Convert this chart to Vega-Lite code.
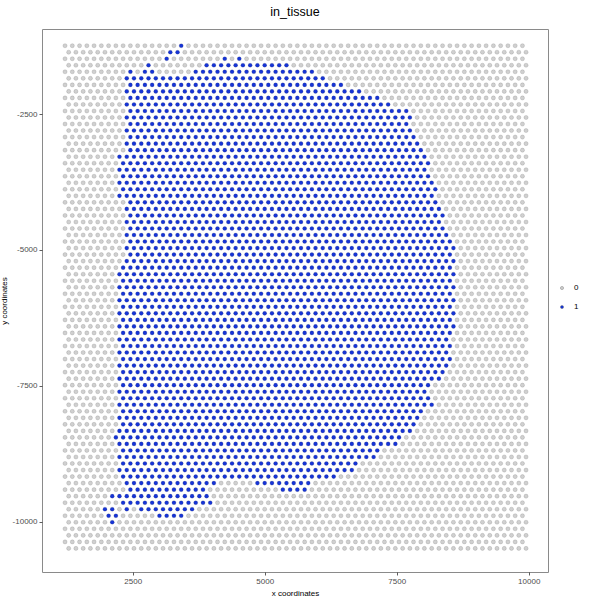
{
"$schema": "https://vega.github.io/schema/vega-lite/v6.json",
"width": 506,
"height": 543,
"autosize": {"type": "none"},
"padding": {"left": 42, "top": 29, "right": 52, "bottom": 28},
"background": "white",
"title": {"text": "in_tissue", "fontSize": 12.5, "fontWeight": "normal", "font": "Liberation Sans", "color": "#000000", "anchor": "middle", "offset": 11},
"data": {"values": [
{"y":-1243,"t":0,"x":[1218,1356,1493,1631,1768,1906,2043,2181,2318,2456,2593,2731,2868,3006,3143,3281,3556,3693,3831,3968,4106,4243,4381,4518,4656,4793,4931,5068,5206,5343,5481,5618,5756,5893,6031,6168,6306,6443,6581,6718,6856,6993,7131,7268,7406,7543,7681,7818,7956,8093,8231,8368,8506,8643,8781,8918,9056,9193,9331,9468,9606,9743,9881]},
{"y":-1243,"t":1,"x":[3418]},
{"y":-1363,"t":0,"x":[1287,1424,1562,1699,1837,1974,2112,2249,2387,2524,2662,2799,2937,3074,3487,3624,3762,3899,4037,4174,4312,4449,4587,4724,4862,4999,5137,5274,5412,5549,5687,5824,5962,6099,6237,6374,6512,6649,6787,6924,7062,7199,7337,7474,7612,7749,7887,8024,8162,8299,8437,8574,8712,8849,8987,9124,9262,9399,9537,9674,9812,9949]},
{"y":-1363,"t":1,"x":[3212,3349]},
{"y":-1483,"t":0,"x":[1218,1356,1493,1631,1768,1906,2043,2181,2318,2456,2593,2731,2868,3006,3281,3418,3556,3693,3831,3968,4106,4381,4656,4793,4931,5068,5206,5343,5481,5618,5756,5893,6031,6168,6306,6443,6581,6718,6856,6993,7131,7268,7406,7543,7681,7818,7956,8093,8231,8368,8506,8643,8781,8918,9056,9193,9331,9468,9606,9743,9881]},
{"y":-1483,"t":1,"x":[3143,4243,4518]},
{"y":-1603,"t":0,"x":[1287,1424,1562,1699,1837,1974,2112,2249,2387,2524,2662,2937,3074,3212,3349,3487,3624,3762,5549,5687,5824,5962,6099,6237,6374,6512,6649,6787,6924,7062,7199,7337,7474,7612,7749,7887,8024,8162,8299,8437,8574,8712,8849,8987,9124,9262,9399,9537,9674,9812,9949]},
{"y":-1603,"t":1,"x":[2799,3899,4037,4174,4312,4449,4587,4724,4862,4999,5137,5274,5412]},
{"y":-1723,"t":0,"x":[1218,1356,1493,1631,1768,1906,2043,2181,2318,2593,3006,3143,3281,3418,3556,6031,6168,6306,6443,6581,6718,6856,6993,7131,7268,7406,7543,7681,7818,7956,8093,8231,8368,8506,8643,8781,8918,9056,9193,9331,9468,9606,9743,9881]},
{"y":-1723,"t":1,"x":[2456,2731,2868,3693,3831,3968,4106,4243,4381,4518,4656,4793,4931,5068,5206,5343,5481,5618,5756,5893]},
{"y":-1844,"t":0,"x":[1287,1424,1562,1699,1837,1974,2112,2249,6237,6374,6512,6649,6787,6924,7062,7199,7337,7474,7612,7749,7887,8024,8162,8299,8437,8574,8712,8849,8987,9124,9262,9399,9537,9674,9812,9949]},
{"y":-1844,"t":1,"x":[2387,2524,2662,2799,2937,3074,3212,3349,3487,3624,3762,3899,4037,4174,4312,4449,4587,4724,4862,4999,5137,5274,5412,5549,5687,5824,5962,6099]},
{"y":-1964,"t":0,"x":[1218,1356,1493,1631,1768,1906,2043,2181,2318,6581,6718,6856,6993,7131,7268,7406,7543,7681,7818,7956,8093,8231,8368,8506,8643,8781,8918,9056,9193,9331,9468,9606,9743,9881]},
{"y":-1964,"t":1,"x":[2456,2593,2731,2868,3006,3143,3281,3418,3556,3693,3831,3968,4106,4243,4381,4518,4656,4793,4931,5068,5206,5343,5481,5618,5756,5893,6031,6168,6306,6443]},
{"y":-2084,"t":0,"x":[1287,1424,1562,1699,1837,1974,2112,2249,6924,7062,7199,7337,7474,7612,7749,7887,8024,8162,8299,8437,8574,8712,8849,8987,9124,9262,9399,9537,9674,9812,9949]},
{"y":-2084,"t":1,"x":[2387,2524,2662,2799,2937,3074,3212,3349,3487,3624,3762,3899,4037,4174,4312,4449,4587,4724,4862,4999,5137,5274,5412,5549,5687,5824,5962,6099,6237,6374,6512,6649,6787]},
{"y":-2204,"t":0,"x":[1218,1356,1493,1631,1768,1906,2043,2181,2318,7268,7406,7543,7681,7818,7956,8093,8231,8368,8506,8643,8781,8918,9056,9193,9331,9468,9606,9743,9881]},
{"y":-2204,"t":1,"x":[2456,2593,2731,2868,3006,3143,3281,3418,3556,3693,3831,3968,4106,4243,4381,4518,4656,4793,4931,5068,5206,5343,5481,5618,5756,5893,6031,6168,6306,6443,6581,6718,6856,6993,7131]},
{"y":-2324,"t":0,"x":[1287,1424,1562,1699,1837,1974,2112,2249,7474,7612,7749,7887,8024,8162,8299,8437,8574,8712,8849,8987,9124,9262,9399,9537,9674,9812,9949]},
{"y":-2324,"t":1,"x":[2387,2524,2662,2799,2937,3074,3212,3349,3487,3624,3762,3899,4037,4174,4312,4449,4587,4724,4862,4999,5137,5274,5412,5549,5687,5824,5962,6099,6237,6374,6512,6649,6787,6924,7062,7199,7337]},
{"y":-2444,"t":0,"x":[1218,1356,1493,1631,1768,1906,2043,2181,2318,7818,7956,8093,8231,8368,8506,8643,8781,8918,9056,9193,9331,9468,9606,9743,9881]},
{"y":-2444,"t":1,"x":[2456,2593,2731,2868,3006,3143,3281,3418,3556,3693,3831,3968,4106,4243,4381,4518,4656,4793,4931,5068,5206,5343,5481,5618,5756,5893,6031,6168,6306,6443,6581,6718,6856,6993,7131,7268,7406,7543,7681]},
{"y":-2564,"t":0,"x":[1287,1424,1562,1699,1837,1974,2112,2249,7887,8024,8162,8299,8437,8574,8712,8849,8987,9124,9262,9399,9537,9674,9812,9949]},
{"y":-2564,"t":1,"x":[2387,2524,2662,2799,2937,3074,3212,3349,3487,3624,3762,3899,4037,4174,4312,4449,4587,4724,4862,4999,5137,5274,5412,5549,5687,5824,5962,6099,6237,6374,6512,6649,6787,6924,7062,7199,7337,7474,7612,7749]},
{"y":-2684,"t":0,"x":[1218,1356,1493,1631,1768,1906,2043,2181,2318,7818,7956,8093,8231,8368,8506,8643,8781,8918,9056,9193,9331,9468,9606,9743,9881]},
{"y":-2684,"t":1,"x":[2456,2593,2731,2868,3006,3143,3281,3418,3556,3693,3831,3968,4106,4243,4381,4518,4656,4793,4931,5068,5206,5343,5481,5618,5756,5893,6031,6168,6306,6443,6581,6718,6856,6993,7131,7268,7406,7543,7681]},
{"y":-2804,"t":0,"x":[1287,1424,1562,1699,1837,1974,2112,2249,7887,8024,8162,8299,8437,8574,8712,8849,8987,9124,9262,9399,9537,9674,9812,9949]},
{"y":-2804,"t":1,"x":[2387,2524,2662,2799,2937,3074,3212,3349,3487,3624,3762,3899,4037,4174,4312,4449,4587,4724,4862,4999,5137,5274,5412,5549,5687,5824,5962,6099,6237,6374,6512,6649,6787,6924,7062,7199,7337,7474,7612,7749]},
{"y":-2924,"t":0,"x":[1218,1356,1493,1631,1768,1906,2043,2181,2318,7956,8093,8231,8368,8506,8643,8781,8918,9056,9193,9331,9468,9606,9743,9881]},
{"y":-2924,"t":1,"x":[2456,2593,2731,2868,3006,3143,3281,3418,3556,3693,3831,3968,4106,4243,4381,4518,4656,4793,4931,5068,5206,5343,5481,5618,5756,5893,6031,6168,6306,6443,6581,6718,6856,6993,7131,7268,7406,7543,7681,7818]},
{"y":-3045,"t":0,"x":[1287,1424,1562,1699,1837,1974,2112,2249,8024,8162,8299,8437,8574,8712,8849,8987,9124,9262,9399,9537,9674,9812,9949]},
{"y":-3045,"t":1,"x":[2387,2524,2662,2799,2937,3074,3212,3349,3487,3624,3762,3899,4037,4174,4312,4449,4587,4724,4862,4999,5137,5274,5412,5549,5687,5824,5962,6099,6237,6374,6512,6649,6787,6924,7062,7199,7337,7474,7612,7749,7887]},
{"y":-3165,"t":0,"x":[1218,1356,1493,1631,1768,1906,2043,2181,2318,8093,8231,8368,8506,8643,8781,8918,9056,9193,9331,9468,9606,9743,9881]},
{"y":-3165,"t":1,"x":[2456,2593,2731,2868,3006,3143,3281,3418,3556,3693,3831,3968,4106,4243,4381,4518,4656,4793,4931,5068,5206,5343,5481,5618,5756,5893,6031,6168,6306,6443,6581,6718,6856,6993,7131,7268,7406,7543,7681,7818,7956]},
{"y":-3285,"t":0,"x":[1287,1424,1562,1699,1837,1974,2112,8162,8299,8437,8574,8712,8849,8987,9124,9262,9399,9537,9674,9812,9949]},
{"y":-3285,"t":1,"x":[2249,2387,2524,2662,2799,2937,3074,3212,3349,3487,3624,3762,3899,4037,4174,4312,4449,4587,4724,4862,4999,5137,5274,5412,5549,5687,5824,5962,6099,6237,6374,6512,6649,6787,6924,7062,7199,7337,7474,7612,7749,7887,8024]},
{"y":-3405,"t":0,"x":[1218,1356,1493,1631,1768,1906,2043,2181,8231,8368,8506,8643,8781,8918,9056,9193,9331,9468,9606,9743,9881]},
{"y":-3405,"t":1,"x":[2318,2456,2593,2731,2868,3006,3143,3281,3418,3556,3693,3831,3968,4106,4243,4381,4518,4656,4793,4931,5068,5206,5343,5481,5618,5756,5893,6031,6168,6306,6443,6581,6718,6856,6993,7131,7268,7406,7543,7681,7818,7956,8093]},
{"y":-3525,"t":0,"x":[1287,1424,1562,1699,1837,1974,2112,8162,8299,8437,8574,8712,8849,8987,9124,9262,9399,9537,9674,9812,9949]},
{"y":-3525,"t":1,"x":[2249,2387,2524,2662,2799,2937,3074,3212,3349,3487,3624,3762,3899,4037,4174,4312,4449,4587,4724,4862,4999,5137,5274,5412,5549,5687,5824,5962,6099,6237,6374,6512,6649,6787,6924,7062,7199,7337,7474,7612,7749,7887,8024]},
{"y":-3645,"t":0,"x":[1218,1356,1493,1631,1768,1906,2043,2181,8231,8368,8506,8643,8781,8918,9056,9193,9331,9468,9606,9743,9881]},
{"y":-3645,"t":1,"x":[2318,2456,2593,2731,2868,3006,3143,3281,3418,3556,3693,3831,3968,4106,4243,4381,4518,4656,4793,4931,5068,5206,5343,5481,5618,5756,5893,6031,6168,6306,6443,6581,6718,6856,6993,7131,7268,7406,7543,7681,7818,7956,8093]},
{"y":-3765,"t":0,"x":[1287,1424,1562,1699,1837,1974,2112,8299,8437,8574,8712,8849,8987,9124,9262,9399,9537,9674,9812,9949]},
{"y":-3765,"t":1,"x":[2249,2387,2524,2662,2799,2937,3074,3212,3349,3487,3624,3762,3899,4037,4174,4312,4449,4587,4724,4862,4999,5137,5274,5412,5549,5687,5824,5962,6099,6237,6374,6512,6649,6787,6924,7062,7199,7337,7474,7612,7749,7887,8024,8162]},
{"y":-3885,"t":0,"x":[1218,1356,1493,1631,1768,1906,2043,2181,8368,8506,8643,8781,8918,9056,9193,9331,9468,9606,9743,9881]},
{"y":-3885,"t":1,"x":[2318,2456,2593,2731,2868,3006,3143,3281,3418,3556,3693,3831,3968,4106,4243,4381,4518,4656,4793,4931,5068,5206,5343,5481,5618,5756,5893,6031,6168,6306,6443,6581,6718,6856,6993,7131,7268,7406,7543,7681,7818,7956,8093,8231]},
{"y":-4005,"t":0,"x":[1287,1424,1562,1699,1837,1974,2112,8299,8437,8574,8712,8849,8987,9124,9262,9399,9537,9674,9812,9949]},
{"y":-4005,"t":1,"x":[2249,2387,2524,2662,2799,2937,3074,3212,3349,3487,3624,3762,3899,4037,4174,4312,4449,4587,4724,4862,4999,5137,5274,5412,5549,5687,5824,5962,6099,6237,6374,6512,6649,6787,6924,7062,7199,7337,7474,7612,7749,7887,8024,8162]},
{"y":-4125,"t":0,"x":[1218,1356,1493,1631,1768,1906,2043,2181,2318,8368,8506,8643,8781,8918,9056,9193,9331,9468,9606,9743,9881]},
{"y":-4125,"t":1,"x":[2456,2593,2731,2868,3006,3143,3281,3418,3556,3693,3831,3968,4106,4243,4381,4518,4656,4793,4931,5068,5206,5343,5481,5618,5756,5893,6031,6168,6306,6443,6581,6718,6856,6993,7131,7268,7406,7543,7681,7818,7956,8093,8231]},
{"y":-4246,"t":0,"x":[1287,1424,1562,1699,1837,1974,2112,2249,8437,8574,8712,8849,8987,9124,9262,9399,9537,9674,9812,9949]},
{"y":-4246,"t":1,"x":[2387,2524,2662,2799,2937,3074,3212,3349,3487,3624,3762,3899,4037,4174,4312,4449,4587,4724,4862,4999,5137,5274,5412,5549,5687,5824,5962,6099,6237,6374,6512,6649,6787,6924,7062,7199,7337,7474,7612,7749,7887,8024,8162,8299]},
{"y":-4366,"t":0,"x":[1218,1356,1493,1631,1768,1906,2043,2181,2318,8506,8643,8781,8918,9056,9193,9331,9468,9606,9743,9881]},
{"y":-4366,"t":1,"x":[2456,2593,2731,2868,3006,3143,3281,3418,3556,3693,3831,3968,4106,4243,4381,4518,4656,4793,4931,5068,5206,5343,5481,5618,5756,5893,6031,6168,6306,6443,6581,6718,6856,6993,7131,7268,7406,7543,7681,7818,7956,8093,8231,8368]},
{"y":-4486,"t":0,"x":[1287,1424,1562,1699,1837,1974,2112,2249,8437,8574,8712,8849,8987,9124,9262,9399,9537,9674,9812,9949]},
{"y":-4486,"t":1,"x":[2387,2524,2662,2799,2937,3074,3212,3349,3487,3624,3762,3899,4037,4174,4312,4449,4587,4724,4862,4999,5137,5274,5412,5549,5687,5824,5962,6099,6237,6374,6512,6649,6787,6924,7062,7199,7337,7474,7612,7749,7887,8024,8162,8299]},
{"y":-4606,"t":0,"x":[1218,1356,1493,1631,1768,1906,2043,2181,2318,8506,8643,8781,8918,9056,9193,9331,9468,9606,9743,9881]},
{"y":-4606,"t":1,"x":[2456,2593,2731,2868,3006,3143,3281,3418,3556,3693,3831,3968,4106,4243,4381,4518,4656,4793,4931,5068,5206,5343,5481,5618,5756,5893,6031,6168,6306,6443,6581,6718,6856,6993,7131,7268,7406,7543,7681,7818,7956,8093,8231,8368]},
{"y":-4726,"t":0,"x":[1287,1424,1562,1699,1837,1974,2112,2249,8574,8712,8849,8987,9124,9262,9399,9537,9674,9812,9949]},
{"y":-4726,"t":1,"x":[2387,2524,2662,2799,2937,3074,3212,3349,3487,3624,3762,3899,4037,4174,4312,4449,4587,4724,4862,4999,5137,5274,5412,5549,5687,5824,5962,6099,6237,6374,6512,6649,6787,6924,7062,7199,7337,7474,7612,7749,7887,8024,8162,8299,8437]},
{"y":-4846,"t":0,"x":[1218,1356,1493,1631,1768,1906,2043,2181,2318,8643,8781,8918,9056,9193,9331,9468,9606,9743,9881]},
{"y":-4846,"t":1,"x":[2456,2593,2731,2868,3006,3143,3281,3418,3556,3693,3831,3968,4106,4243,4381,4518,4656,4793,4931,5068,5206,5343,5481,5618,5756,5893,6031,6168,6306,6443,6581,6718,6856,6993,7131,7268,7406,7543,7681,7818,7956,8093,8231,8368,8506]},
{"y":-4966,"t":0,"x":[1287,1424,1562,1699,1837,1974,2112,2249,8712,8849,8987,9124,9262,9399,9537,9674,9812,9949]},
{"y":-4966,"t":1,"x":[2387,2524,2662,2799,2937,3074,3212,3349,3487,3624,3762,3899,4037,4174,4312,4449,4587,4724,4862,4999,5137,5274,5412,5549,5687,5824,5962,6099,6237,6374,6512,6649,6787,6924,7062,7199,7337,7474,7612,7749,7887,8024,8162,8299,8437,8574]},
{"y":-5086,"t":0,"x":[1218,1356,1493,1631,1768,1906,2043,2181,2318,8643,8781,8918,9056,9193,9331,9468,9606,9743,9881]},
{"y":-5086,"t":1,"x":[2456,2593,2731,2868,3006,3143,3281,3418,3556,3693,3831,3968,4106,4243,4381,4518,4656,4793,4931,5068,5206,5343,5481,5618,5756,5893,6031,6168,6306,6443,6581,6718,6856,6993,7131,7268,7406,7543,7681,7818,7956,8093,8231,8368,8506]},
{"y":-5206,"t":0,"x":[1287,1424,1562,1699,1837,1974,2112,2249,8712,8849,8987,9124,9262,9399,9537,9674,9812,9949]},
{"y":-5206,"t":1,"x":[2387,2524,2662,2799,2937,3074,3212,3349,3487,3624,3762,3899,4037,4174,4312,4449,4587,4724,4862,4999,5137,5274,5412,5549,5687,5824,5962,6099,6237,6374,6512,6649,6787,6924,7062,7199,7337,7474,7612,7749,7887,8024,8162,8299,8437,8574]},
{"y":-5326,"t":0,"x":[1218,1356,1493,1631,1768,1906,2043,2181,8643,8781,8918,9056,9193,9331,9468,9606,9743,9881]},
{"y":-5326,"t":1,"x":[2318,2456,2593,2731,2868,3006,3143,3281,3418,3556,3693,3831,3968,4106,4243,4381,4518,4656,4793,4931,5068,5206,5343,5481,5618,5756,5893,6031,6168,6306,6443,6581,6718,6856,6993,7131,7268,7406,7543,7681,7818,7956,8093,8231,8368,8506]},
{"y":-5447,"t":0,"x":[1287,1424,1562,1699,1837,1974,2112,8712,8849,8987,9124,9262,9399,9537,9674,9812,9949]},
{"y":-5447,"t":1,"x":[2249,2387,2524,2662,2799,2937,3074,3212,3349,3487,3624,3762,3899,4037,4174,4312,4449,4587,4724,4862,4999,5137,5274,5412,5549,5687,5824,5962,6099,6237,6374,6512,6649,6787,6924,7062,7199,7337,7474,7612,7749,7887,8024,8162,8299,8437,8574]},
{"y":-5567,"t":0,"x":[1218,1356,1493,1631,1768,1906,2043,2181,8643,8781,8918,9056,9193,9331,9468,9606,9743,9881]},
{"y":-5567,"t":1,"x":[2318,2456,2593,2731,2868,3006,3143,3281,3418,3556,3693,3831,3968,4106,4243,4381,4518,4656,4793,4931,5068,5206,5343,5481,5618,5756,5893,6031,6168,6306,6443,6581,6718,6856,6993,7131,7268,7406,7543,7681,7818,7956,8093,8231,8368,8506]},
{"y":-5687,"t":0,"x":[1287,1424,1562,1699,1837,1974,2112,8712,8849,8987,9124,9262,9399,9537,9674,9812,9949]},
{"y":-5687,"t":1,"x":[2249,2387,2524,2662,2799,2937,3074,3212,3349,3487,3624,3762,3899,4037,4174,4312,4449,4587,4724,4862,4999,5137,5274,5412,5549,5687,5824,5962,6099,6237,6374,6512,6649,6787,6924,7062,7199,7337,7474,7612,7749,7887,8024,8162,8299,8437,8574]},
{"y":-5807,"t":0,"x":[1218,1356,1493,1631,1768,1906,2043,2181,8643,8781,8918,9056,9193,9331,9468,9606,9743,9881]},
{"y":-5807,"t":1,"x":[2318,2456,2593,2731,2868,3006,3143,3281,3418,3556,3693,3831,3968,4106,4243,4381,4518,4656,4793,4931,5068,5206,5343,5481,5618,5756,5893,6031,6168,6306,6443,6581,6718,6856,6993,7131,7268,7406,7543,7681,7818,7956,8093,8231,8368,8506]},
{"y":-5927,"t":0,"x":[1287,1424,1562,1699,1837,1974,2112,8712,8849,8987,9124,9262,9399,9537,9674,9812,9949]},
{"y":-5927,"t":1,"x":[2249,2387,2524,2662,2799,2937,3074,3212,3349,3487,3624,3762,3899,4037,4174,4312,4449,4587,4724,4862,4999,5137,5274,5412,5549,5687,5824,5962,6099,6237,6374,6512,6649,6787,6924,7062,7199,7337,7474,7612,7749,7887,8024,8162,8299,8437,8574]},
{"y":-6047,"t":0,"x":[1218,1356,1493,1631,1768,1906,2043,2181,8643,8781,8918,9056,9193,9331,9468,9606,9743,9881]},
{"y":-6047,"t":1,"x":[2318,2456,2593,2731,2868,3006,3143,3281,3418,3556,3693,3831,3968,4106,4243,4381,4518,4656,4793,4931,5068,5206,5343,5481,5618,5756,5893,6031,6168,6306,6443,6581,6718,6856,6993,7131,7268,7406,7543,7681,7818,7956,8093,8231,8368,8506]},
{"y":-6167,"t":0,"x":[1287,1424,1562,1699,1837,1974,2112,8712,8849,8987,9124,9262,9399,9537,9674,9812,9949]},
{"y":-6167,"t":1,"x":[2249,2387,2524,2662,2799,2937,3074,3212,3349,3487,3624,3762,3899,4037,4174,4312,4449,4587,4724,4862,4999,5137,5274,5412,5549,5687,5824,5962,6099,6237,6374,6512,6649,6787,6924,7062,7199,7337,7474,7612,7749,7887,8024,8162,8299,8437,8574]},
{"y":-6287,"t":0,"x":[1218,1356,1493,1631,1768,1906,2043,2181,8643,8781,8918,9056,9193,9331,9468,9606,9743,9881]},
{"y":-6287,"t":1,"x":[2318,2456,2593,2731,2868,3006,3143,3281,3418,3556,3693,3831,3968,4106,4243,4381,4518,4656,4793,4931,5068,5206,5343,5481,5618,5756,5893,6031,6168,6306,6443,6581,6718,6856,6993,7131,7268,7406,7543,7681,7818,7956,8093,8231,8368,8506]},
{"y":-6407,"t":0,"x":[1287,1424,1562,1699,1837,1974,2112,8712,8849,8987,9124,9262,9399,9537,9674,9812,9949]},
{"y":-6407,"t":1,"x":[2249,2387,2524,2662,2799,2937,3074,3212,3349,3487,3624,3762,3899,4037,4174,4312,4449,4587,4724,4862,4999,5137,5274,5412,5549,5687,5824,5962,6099,6237,6374,6512,6649,6787,6924,7062,7199,7337,7474,7612,7749,7887,8024,8162,8299,8437,8574]},
{"y":-6527,"t":0,"x":[1218,1356,1493,1631,1768,1906,2043,2181,8643,8781,8918,9056,9193,9331,9468,9606,9743,9881]},
{"y":-6527,"t":1,"x":[2318,2456,2593,2731,2868,3006,3143,3281,3418,3556,3693,3831,3968,4106,4243,4381,4518,4656,4793,4931,5068,5206,5343,5481,5618,5756,5893,6031,6168,6306,6443,6581,6718,6856,6993,7131,7268,7406,7543,7681,7818,7956,8093,8231,8368,8506]},
{"y":-6648,"t":0,"x":[1287,1424,1562,1699,1837,1974,2112,8574,8712,8849,8987,9124,9262,9399,9537,9674,9812,9949]},
{"y":-6648,"t":1,"x":[2249,2387,2524,2662,2799,2937,3074,3212,3349,3487,3624,3762,3899,4037,4174,4312,4449,4587,4724,4862,4999,5137,5274,5412,5549,5687,5824,5962,6099,6237,6374,6512,6649,6787,6924,7062,7199,7337,7474,7612,7749,7887,8024,8162,8299,8437]},
{"y":-6768,"t":0,"x":[1218,1356,1493,1631,1768,1906,2043,2181,8643,8781,8918,9056,9193,9331,9468,9606,9743,9881]},
{"y":-6768,"t":1,"x":[2318,2456,2593,2731,2868,3006,3143,3281,3418,3556,3693,3831,3968,4106,4243,4381,4518,4656,4793,4931,5068,5206,5343,5481,5618,5756,5893,6031,6168,6306,6443,6581,6718,6856,6993,7131,7268,7406,7543,7681,7818,7956,8093,8231,8368,8506]},
{"y":-6888,"t":0,"x":[1287,1424,1562,1699,1837,1974,2112,8574,8712,8849,8987,9124,9262,9399,9537,9674,9812,9949]},
{"y":-6888,"t":1,"x":[2249,2387,2524,2662,2799,2937,3074,3212,3349,3487,3624,3762,3899,4037,4174,4312,4449,4587,4724,4862,4999,5137,5274,5412,5549,5687,5824,5962,6099,6237,6374,6512,6649,6787,6924,7062,7199,7337,7474,7612,7749,7887,8024,8162,8299,8437]},
{"y":-7008,"t":0,"x":[1218,1356,1493,1631,1768,1906,2043,2181,8643,8781,8918,9056,9193,9331,9468,9606,9743,9881]},
{"y":-7008,"t":1,"x":[2318,2456,2593,2731,2868,3006,3143,3281,3418,3556,3693,3831,3968,4106,4243,4381,4518,4656,4793,4931,5068,5206,5343,5481,5618,5756,5893,6031,6168,6306,6443,6581,6718,6856,6993,7131,7268,7406,7543,7681,7818,7956,8093,8231,8368,8506]},
{"y":-7128,"t":0,"x":[1287,1424,1562,1699,1837,1974,2112,8574,8712,8849,8987,9124,9262,9399,9537,9674,9812,9949]},
{"y":-7128,"t":1,"x":[2249,2387,2524,2662,2799,2937,3074,3212,3349,3487,3624,3762,3899,4037,4174,4312,4449,4587,4724,4862,4999,5137,5274,5412,5549,5687,5824,5962,6099,6237,6374,6512,6649,6787,6924,7062,7199,7337,7474,7612,7749,7887,8024,8162,8299,8437]},
{"y":-7248,"t":0,"x":[1218,1356,1493,1631,1768,1906,2043,2181,8506,8643,8781,8918,9056,9193,9331,9468,9606,9743,9881]},
{"y":-7248,"t":1,"x":[2318,2456,2593,2731,2868,3006,3143,3281,3418,3556,3693,3831,3968,4106,4243,4381,4518,4656,4793,4931,5068,5206,5343,5481,5618,5756,5893,6031,6168,6306,6443,6581,6718,6856,6993,7131,7268,7406,7543,7681,7818,7956,8093,8231,8368]},
{"y":-7368,"t":0,"x":[1287,1424,1562,1699,1837,1974,2112,8437,8574,8712,8849,8987,9124,9262,9399,9537,9674,9812,9949]},
{"y":-7368,"t":1,"x":[2249,2387,2524,2662,2799,2937,3074,3212,3349,3487,3624,3762,3899,4037,4174,4312,4449,4587,4724,4862,4999,5137,5274,5412,5549,5687,5824,5962,6099,6237,6374,6512,6649,6787,6924,7062,7199,7337,7474,7612,7749,7887,8024,8162,8299]},
{"y":-7488,"t":0,"x":[1218,1356,1493,1631,1768,1906,2043,2181,8231,8368,8506,8643,8781,8918,9056,9193,9331,9468,9606,9743,9881]},
{"y":-7488,"t":1,"x":[2318,2456,2593,2731,2868,3006,3143,3281,3418,3556,3693,3831,3968,4106,4243,4381,4518,4656,4793,4931,5068,5206,5343,5481,5618,5756,5893,6031,6168,6306,6443,6581,6718,6856,6993,7131,7268,7406,7543,7681,7818,7956,8093]},
{"y":-7608,"t":0,"x":[1287,1424,1562,1699,1837,1974,2112,8162,8299,8437,8574,8712,8849,8987,9124,9262,9399,9537,9674,9812,9949]},
{"y":-7608,"t":1,"x":[2249,2387,2524,2662,2799,2937,3074,3212,3349,3487,3624,3762,3899,4037,4174,4312,4449,4587,4724,4862,4999,5137,5274,5412,5549,5687,5824,5962,6099,6237,6374,6512,6649,6787,6924,7062,7199,7337,7474,7612,7749,7887,8024]},
{"y":-7728,"t":0,"x":[1218,1356,1493,1631,1768,1906,2043,2181,8231,8368,8506,8643,8781,8918,9056,9193,9331,9468,9606,9743,9881]},
{"y":-7728,"t":1,"x":[2318,2456,2593,2731,2868,3006,3143,3281,3418,3556,3693,3831,3968,4106,4243,4381,4518,4656,4793,4931,5068,5206,5343,5481,5618,5756,5893,6031,6168,6306,6443,6581,6718,6856,6993,7131,7268,7406,7543,7681,7818,7956,8093]},
{"y":-7849,"t":0,"x":[1287,1424,1562,1699,1837,1974,2112,8299,8437,8574,8712,8849,8987,9124,9262,9399,9537,9674,9812,9949]},
{"y":-7849,"t":1,"x":[2249,2387,2524,2662,2799,2937,3074,3212,3349,3487,3624,3762,3899,4037,4174,4312,4449,4587,4724,4862,4999,5137,5274,5412,5549,5687,5824,5962,6099,6237,6374,6512,6649,6787,6924,7062,7199,7337,7474,7612,7749,7887,8024,8162]},
{"y":-7969,"t":0,"x":[1218,1356,1493,1631,1768,1906,2043,2181,8093,8231,8368,8506,8643,8781,8918,9056,9193,9331,9468,9606,9743,9881]},
{"y":-7969,"t":1,"x":[2318,2456,2593,2731,2868,3006,3143,3281,3418,3556,3693,3831,3968,4106,4243,4381,4518,4656,4793,4931,5068,5206,5343,5481,5618,5756,5893,6031,6168,6306,6443,6581,6718,6856,6993,7131,7268,7406,7543,7681,7818,7956]},
{"y":-8089,"t":0,"x":[1287,1424,1562,1699,1837,1974,2112,8024,8162,8299,8437,8574,8712,8849,8987,9124,9262,9399,9537,9674,9812,9949]},
{"y":-8089,"t":1,"x":[2249,2387,2524,2662,2799,2937,3074,3212,3349,3487,3624,3762,3899,4037,4174,4312,4449,4587,4724,4862,4999,5137,5274,5412,5549,5687,5824,5962,6099,6237,6374,6512,6649,6787,6924,7062,7199,7337,7474,7612,7749,7887]},
{"y":-8209,"t":0,"x":[1218,1356,1493,1631,1768,1906,2043,2181,7956,8093,8231,8368,8506,8643,8781,8918,9056,9193,9331,9468,9606,9743,9881]},
{"y":-8209,"t":1,"x":[2318,2456,2593,2731,2868,3006,3143,3281,3418,3556,3693,3831,3968,4106,4243,4381,4518,4656,4793,4931,5068,5206,5343,5481,5618,5756,5893,6031,6168,6306,6443,6581,6718,6856,6993,7131,7268,7406,7543,7681,7818]},
{"y":-8329,"t":0,"x":[1287,1424,1562,1699,1837,1974,2112,7887,8024,8162,8299,8437,8574,8712,8849,8987,9124,9262,9399,9537,9674,9812,9949]},
{"y":-8329,"t":1,"x":[2249,2387,2524,2662,2799,2937,3074,3212,3349,3487,3624,3762,3899,4037,4174,4312,4449,4587,4724,4862,4999,5137,5274,5412,5549,5687,5824,5962,6099,6237,6374,6512,6649,6787,6924,7062,7199,7337,7474,7612,7749]},
{"y":-8449,"t":0,"x":[1218,1356,1493,1631,1768,1906,2043,7681,7818,7956,8093,8231,8368,8506,8643,8781,8918,9056,9193,9331,9468,9606,9743,9881]},
{"y":-8449,"t":1,"x":[2181,2318,2456,2593,2731,2868,3006,3143,3281,3418,3556,3693,3831,3968,4106,4243,4381,4518,4656,4793,4931,5068,5206,5343,5481,5618,5756,5893,6031,6168,6306,6443,6581,6718,6856,6993,7131,7268,7406,7543]},
{"y":-8569,"t":0,"x":[1287,1424,1562,1699,1837,1974,2112,7612,7749,7887,8024,8162,8299,8437,8574,8712,8849,8987,9124,9262,9399,9537,9674,9812,9949]},
{"y":-8569,"t":1,"x":[2249,2387,2524,2662,2799,2937,3074,3212,3349,3487,3624,3762,3899,4037,4174,4312,4449,4587,4724,4862,4999,5137,5274,5412,5549,5687,5824,5962,6099,6237,6374,6512,6649,6787,6924,7062,7199,7337,7474]},
{"y":-8689,"t":0,"x":[1218,1356,1493,1631,1768,1906,2043,2181,7268,7406,7543,7681,7818,7956,8093,8231,8368,8506,8643,8781,8918,9056,9193,9331,9468,9606,9743,9881]},
{"y":-8689,"t":1,"x":[2318,2456,2593,2731,2868,3006,3143,3281,3418,3556,3693,3831,3968,4106,4243,4381,4518,4656,4793,4931,5068,5206,5343,5481,5618,5756,5893,6031,6168,6306,6443,6581,6718,6856,6993,7131]},
{"y":-8809,"t":0,"x":[1287,1424,1562,1699,1837,1974,2112,7199,7337,7474,7612,7749,7887,8024,8162,8299,8437,8574,8712,8849,8987,9124,9262,9399,9537,9674,9812,9949]},
{"y":-8809,"t":1,"x":[2249,2387,2524,2662,2799,2937,3074,3212,3349,3487,3624,3762,3899,4037,4174,4312,4449,4587,4724,4862,4999,5137,5274,5412,5549,5687,5824,5962,6099,6237,6374,6512,6649,6787,6924,7062]},
{"y":-8929,"t":0,"x":[1218,1356,1493,1631,1768,1906,2043,2181,6856,6993,7131,7268,7406,7543,7681,7818,7956,8093,8231,8368,8506,8643,8781,8918,9056,9193,9331,9468,9606,9743,9881]},
{"y":-8929,"t":1,"x":[2318,2456,2593,2731,2868,3006,3143,3281,3418,3556,3693,3831,3968,4106,4243,4381,4518,4656,4793,4931,5068,5206,5343,5481,5618,5756,5893,6031,6168,6306,6443,6581,6718]},
{"y":-9050,"t":0,"x":[1287,1424,1562,1699,1837,1974,2112,6787,6924,7062,7199,7337,7474,7612,7749,7887,8024,8162,8299,8437,8574,8712,8849,8987,9124,9262,9399,9537,9674,9812,9949]},
{"y":-9050,"t":1,"x":[2249,2387,2524,2662,2799,2937,3074,3212,3349,3487,3624,3762,3899,4037,4174,4312,4449,4587,4724,4862,4999,5137,5274,5412,5549,5687,5824,5962,6099,6237,6374,6512,6649]},
{"y":-9170,"t":0,"x":[1218,1356,1493,1631,1768,1906,2043,2181,6443,6581,6718,6856,6993,7131,7268,7406,7543,7681,7818,7956,8093,8231,8368,8506,8643,8781,8918,9056,9193,9331,9468,9606,9743,9881]},
{"y":-9170,"t":1,"x":[2318,2456,2593,2731,2868,3006,3143,3281,3418,3556,3693,3831,3968,4106,4243,4381,4518,4656,4793,4931,5068,5206,5343,5481,5618,5756,5893,6031,6168,6306]},
{"y":-9290,"t":0,"x":[1287,1424,1562,1699,1837,1974,2112,2249,4174,4312,4449,4587,4724,5962,6099,6237,6374,6512,6649,6787,6924,7062,7199,7337,7474,7612,7749,7887,8024,8162,8299,8437,8574,8712,8849,8987,9124,9262,9399,9537,9674,9812,9949]},
{"y":-9290,"t":1,"x":[2387,2524,2662,2799,2937,3074,3212,3349,3487,3624,3762,3899,4037,4862,4999,5137,5274,5412,5549,5687,5824]},
{"y":-9410,"t":0,"x":[1218,1356,1493,1631,1768,1906,2043,2181,2318,3968,4106,4243,4381,4518,4656,4793,4931,5068,5206,5893,6031,6168,6306,6443,6581,6718,6856,6993,7131,7268,7406,7543,7681,7818,7956,8093,8231,8368,8506,8643,8781,8918,9056,9193,9331,9468,9606,9743,9881]},
{"y":-9410,"t":1,"x":[2456,2593,2731,2868,3006,3143,3281,3418,3556,3693,3831,5343,5481,5618,5756]},
{"y":-9530,"t":0,"x":[1287,1424,1562,1699,1837,1974,4037,4174,4312,4449,4587,4724,4862,4999,5137,5274,5412,5549,5687,5824,5962,6099,6237,6374,6512,6649,6787,6924,7062,7199,7337,7474,7612,7749,7887,8024,8162,8299,8437,8574,8712,8849,8987,9124,9262,9399,9537,9674,9812,9949]},
{"y":-9530,"t":1,"x":[2112,2249,2387,2524,2662,2799,2937,3074,3212,3349,3487,3624,3762,3899]},
{"y":-9650,"t":0,"x":[1218,1356,1493,1631,1768,1906,2043,2181,4106,4243,4381,4518,4656,4793,4931,5068,5206,5343,5481,5618,5756,5893,6031,6168,6306,6443,6581,6718,6856,6993,7131,7268,7406,7543,7681,7818,7956,8093,8231,8368,8506,8643,8781,8918,9056,9193,9331,9468,9606,9743,9881]},
{"y":-9650,"t":1,"x":[2318,2456,2593,2731,2868,3006,3143,3281,3418,3556,3693,3831,3968]},
{"y":-9770,"t":0,"x":[1287,1424,1562,1699,1837,2249,2524,3762,3899,4037,4174,4312,4449,4587,4724,4862,4999,5137,5274,5412,5549,5687,5824,5962,6099,6237,6374,6512,6649,6787,6924,7062,7199,7337,7474,7612,7749,7887,8024,8162,8299,8437,8574,8712,8849,8987,9124,9262,9399,9537,9674,9812,9949]},
{"y":-9770,"t":1,"x":[1974,2112,2387,2662,2799,2937,3074,3212,3349,3487,3624]},
{"y":-9890,"t":0,"x":[1218,1356,1493,1631,1768,1906,2318,2456,2593,2731,2868,3556,3693,3831,3968,4106,4243,4381,4518,4656,4793,4931,5068,5206,5343,5481,5618,5756,5893,6031,6168,6306,6443,6581,6718,6856,6993,7131,7268,7406,7543,7681,7818,7956,8093,8231,8368,8506,8643,8781,8918,9056,9193,9331,9468,9606,9743,9881]},
{"y":-9890,"t":1,"x":[2043,2181,3006,3143,3281,3418]},
{"y":-10010,"t":0,"x":[1287,1424,1562,1699,1837,1974,2249,2387,2524,2662,2799,2937,3074,3212,3349,3487,3624,3762,3899,4037,4174,4312,4449,4587,4724,4862,4999,5137,5274,5412,5549,5687,5824,5962,6099,6237,6374,6512,6649,6787,6924,7062,7199,7337,7474,7612,7749,7887,8024,8162,8299,8437,8574,8712,8849,8987,9124,9262,9399,9537,9674,9812,9949]},
{"y":-10010,"t":1,"x":[2112]},
{"y":-10130,"t":0,"x":[1218,1356,1493,1631,1768,1906,2043,2181,2318,2456,2593,2731,2868,3006,3143,3281,3418,3556,3693,3831,3968,4106,4243,4381,4518,4656,4793,4931,5068,5206,5343,5481,5618,5756,5893,6031,6168,6306,6443,6581,6718,6856,6993,7131,7268,7406,7543,7681,7818,7956,8093,8231,8368,8506,8643,8781,8918,9056,9193,9331,9468,9606,9743,9881]},
{"y":-10251,"t":0,"x":[1287,1424,1562,1699,1837,1974,2112,2249,2387,2524,2662,2799,2937,3074,3212,3349,3487,3624,3762,3899,4037,4174,4312,4449,4587,4724,4862,4999,5137,5274,5412,5549,5687,5824,5962,6099,6237,6374,6512,6649,6787,6924,7062,7199,7337,7474,7612,7749,7887,8024,8162,8299,8437,8574,8712,8849,8987,9124,9262,9399,9537,9674,9812,9949]},
{"y":-10371,"t":0,"x":[1218,1356,1493,1631,1768,1906,2043,2181,2318,2456,2593,2731,2868,3006,3143,3281,3418,3556,3693,3831,3968,4106,4243,4381,4518,4656,4793,4931,5068,5206,5343,5481,5618,5756,5893,6031,6168,6306,6443,6581,6718,6856,6993,7131,7268,7406,7543,7681,7818,7956,8093,8231,8368,8506,8643,8781,8918,9056,9193,9331,9468,9606,9743,9881]},
{"y":-10491,"t":0,"x":[1287,1424,1562,1699,1837,1974,2112,2249,2387,2524,2662,2799,2937,3074,3212,3349,3487,3624,3762,3899,4037,4174,4312,4449,4587,4724,4862,4999,5137,5274,5412,5549,5687,5824,5962,6099,6237,6374,6512,6649,6787,6924,7062,7199,7337,7474,7612,7749,7887,8024,8162,8299,8437,8574,8712,8849,8987,9124,9262,9399,9537,9674,9812,9949]}
]},
"transform": [{"flatten": ["x"]}],
"mark": {"type": "point", "filled": true, "size": 17, "stroke": "#3a3a3a", "strokeWidth": 0.15, "opacity": 1},
"encoding": {
  "x": {"field": "x", "type": "quantitative", "scale": {"domain": [782, 10365], "nice": false, "zero": false},
        "axis": {"values": [2500, 5000, 7500, 10000], "format": "d", "title": "x coordinates"}},
  "y": {"field": "y", "type": "quantitative", "scale": {"domain": [-10925, -936], "nice": false, "zero": false},
        "axis": {"values": [-10000, -7500, -5000, -2500], "labelExpr": "'' + datum.value", "title": "y coordinates"}},
  "color": {"field": "t", "type": "nominal", "scale": {"domain": [0, 1], "range": ["#d0d0d0", "#1634d6"]},
        "legend": {"title": null, "orient": "none", "legendX": 516, "legendY": 255, "symbolSize": 10, "symbolStrokeWidth": 0.3, "labelFontSize": 8, "labelFont": "Liberation Sans", "labelColor": "#000000", "rowPadding": 11, "labelOffset": 8, "padding": 0}}
},
"config": {
  "view": {"stroke": "#8a8a8a", "strokeWidth": 1},
  "axis": {"grid": false, "domain": false, "tickSize": 3, "tickColor": "#333333", "tickWidth": 0.8,
           "labelFont": "Liberation Sans", "labelFontSize": 8, "labelColor": "#4d4d4d", "labelPadding": 2,
           "titleFont": "Liberation Sans", "titleFontSize": 8, "titleFontWeight": "normal", "titleColor": "#000000", "titlePadding": 4}
}
}
